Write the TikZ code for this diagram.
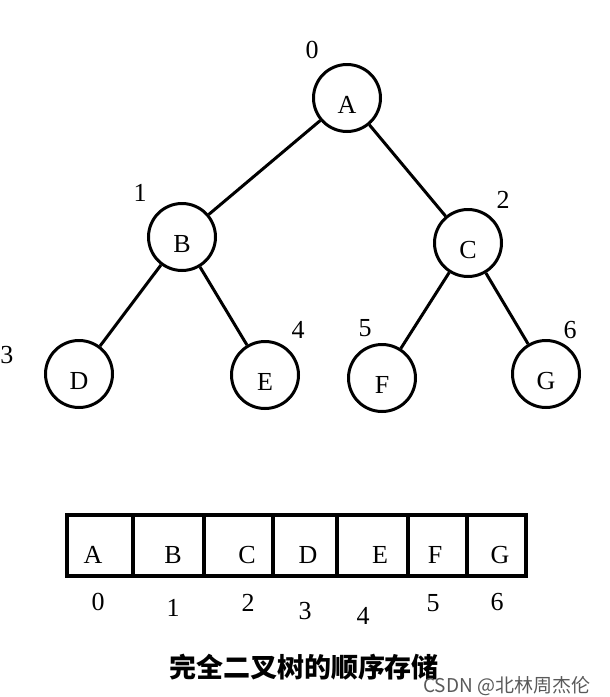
\documentclass[tikz,border=0pt]{standalone}
\usepackage{fontspec}
\setmainfont{Liberation Serif}
\newfontfamily\cjk{Noto Sans CJK SC}
\usepackage{xcolor}
\usetikzlibrary{positioning}

\tikzset{
    vtx/.style={draw, circle, line width=3pt, minimum size=67pt, inner sep=0pt,
        text height=30pt, text depth=0pt, font=\fontsize{26}{30}\selectfont},
    idx/.style={font=\fontsize{26}{30}\selectfont},
    link/.style={line width=3pt},
    box/.style={line width=3.2pt}
}

\begin{document}
\begin{tikzpicture}[x=1pt, y=-1pt]
    \useasboundingbox (0,0) rectangle (610,697);
    % tree
    \node[vtx] (A) at (347,98) {A};
    \node[vtx] (B) at (182,237) {B};
    \node[vtx] (C) at (468,243) {C};
    \node[vtx] (D) at (79,374) {D};
    \node[vtx] (E) at (265,375) {E};
    \node[vtx] (F) at (382,378) {F};
    \node[vtx] (G) at (546,374) {G};
    \foreach \u/\v in {A/B,A/C,B/D,B/E,C/F,C/G}
        \draw[link] (\u) -- (\v);
    \foreach \i/\x/\y in {0/312/50,1/140/193,2/503/200,3/7/355,4/298/330,5/365/328,6/570/330}
        \node[idx] (lbl\i) at (\x,\y) {\i};
    % array
    \draw[box] (67,515) rectangle (526,576);
    \foreach \x in {133,204,273,337,408,467}
        \draw[box] (\x,515) -- (\x,576);
    \foreach \c/\x/\i/\u/\v in {A/93/0/98/602,B/173/1/173/608,C/247/2/248/603,D/308/3/305/611,E/380/4/363/616,F/435/5/433/603,G/500/6/497/602} {
        \node[idx] (cell\c) at (\x,555) {\c};
        \node[idx] (pos\i) at (\u,\v) {\i};
    }
    \node[font=\cjk\bfseries\fontsize{27}{30}\selectfont] (caption) at (304,667) {完全二叉树的顺序存储};
    \node[font=\cjk\fontsize{19}{22}\selectfont, text=black!65, anchor=west, inner sep=0pt] (mark) at (423,686) {CSDN @北林周杰伦};
\end{tikzpicture}
\end{document}
